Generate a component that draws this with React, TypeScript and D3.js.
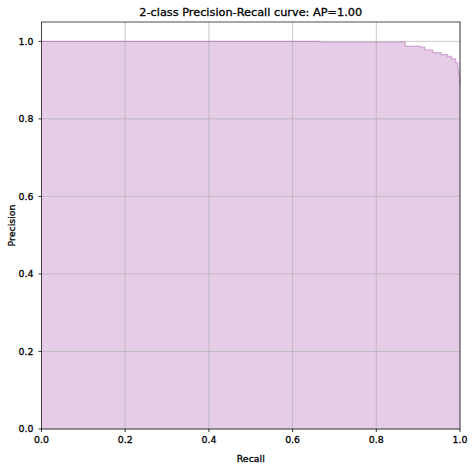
import * as d3 from "d3";
import React from "react";

// recall / precision pairs
const recall = [0, 0.665, 0.869, 0.905, 0.916, 0.935, 0.955, 0.97, 0.98, 0.99, 0.995, 0.997, 0.999, 1.0];
const precision = [1.0, 0.998, 0.988, 0.985, 0.978, 0.971, 0.966, 0.961, 0.955, 0.945, 0.93, 0.915, 0.9, 0.888];

const xTicks = [0, 0.2, 0.4, 0.6, 0.8, 1.0];
const yTicks = [0, 0.2, 0.4, 0.6, 0.8, 1.0];

const title = "2-class Precision-Recall curve: AP=1.00";

const W = 474;
const H = 465;
const plot = { left: 41.5, right: 460, top: 22, bottom: 429 };

const App: React.FC = () => {
  const x = d3.scaleLinear().domain([0, 1]).range([plot.left, plot.right]);
  const y = d3.scaleLinear().domain([0, 1.05]).range([plot.bottom, plot.top]);

  const points: [number, number][] = recall.map((r, i) => [r, precision[i]]);

  const area = d3
    .area<[number, number]>()
    .curve(d3.curveStepAfter)
    .x((d) => x(d[0]))
    .y0(y(0))
    .y1((d) => y(d[1]));

  const line = d3
    .line<[number, number]>()
    .curve(d3.curveStepAfter)
    .x((d) => x(d[0]))
    .y((d) => y(d[1]));

  const font = "DejaVu Sans";
  // text in the reference is rendered heavy, a thin stroke thickens it a bit
  const heavy = { stroke: "#000", strokeWidth: 0.3 };

  return (
    <svg
      width={W}
      height={H}
      style={{ position: "absolute", left: 0, top: 0, background: "white" }}
      fontFamily={font}
    >
      {/* fill */}
      <path d={area(points) ?? ""} fill="purple" fillOpacity={0.2} />

      {/* grid */}
      <g stroke="#b0b0b0" strokeWidth={0.7}>
        {xTicks.map((t) => (
          <line key={"gx" + t} x1={x(t)} x2={x(t)} y1={plot.top} y2={plot.bottom} />
        ))}
        {yTicks.map((t) => (
          <line key={"gy" + t} x1={plot.left} x2={plot.right} y1={y(t)} y2={y(t)} />
        ))}
      </g>

      {/* step line */}
      <path d={line(points) ?? ""} fill="none" stroke="purple" strokeOpacity={0.25} strokeWidth={1.3} />

      {/* spines */}
      <rect
        x={plot.left}
        y={plot.top}
        width={plot.right - plot.left}
        height={plot.bottom - plot.top}
        fill="none"
        stroke="#222"
        strokeWidth={0.8}
      />

      {/* axes */}
      <g fontSize={9.4} fill="#000" {...heavy}>
        {xTicks.map((t) => (
          <g key={"xt" + t}>
            <line x1={x(t)} x2={x(t)} y1={plot.bottom} y2={plot.bottom + 3} stroke="#000" strokeWidth={0.8} />
            <text x={x(t)} y={plot.bottom + 14} textAnchor="middle">
              {t.toFixed(1)}
            </text>
          </g>
        ))}
        {yTicks.map((t) => (
          <g key={"yt" + t}>
            <line x1={plot.left - 3} x2={plot.left} y1={y(t)} y2={y(t)} stroke="#000" strokeWidth={0.8} />
            <text x={plot.left - 8} y={y(t)} dy="0.35em" textAnchor="end">
              {t.toFixed(1)}
            </text>
          </g>
        ))}
        <text x={(plot.left + plot.right) / 2} y={462} textAnchor="middle">
          Recall
        </text>
        <text
          transform={`translate(14.5, ${(plot.top + plot.bottom) / 2}) rotate(-90)`}
          textAnchor="middle"
        >
          Precision
        </text>
      </g>

      {/* title */}
      <text
        x={(plot.left + plot.right) / 2}
        y={16}
        textAnchor="middle"
        fontSize={11.3}
        fill="#000"
        {...heavy}
      >
        {title}
      </text>
    </svg>
  );
};

export default App;
